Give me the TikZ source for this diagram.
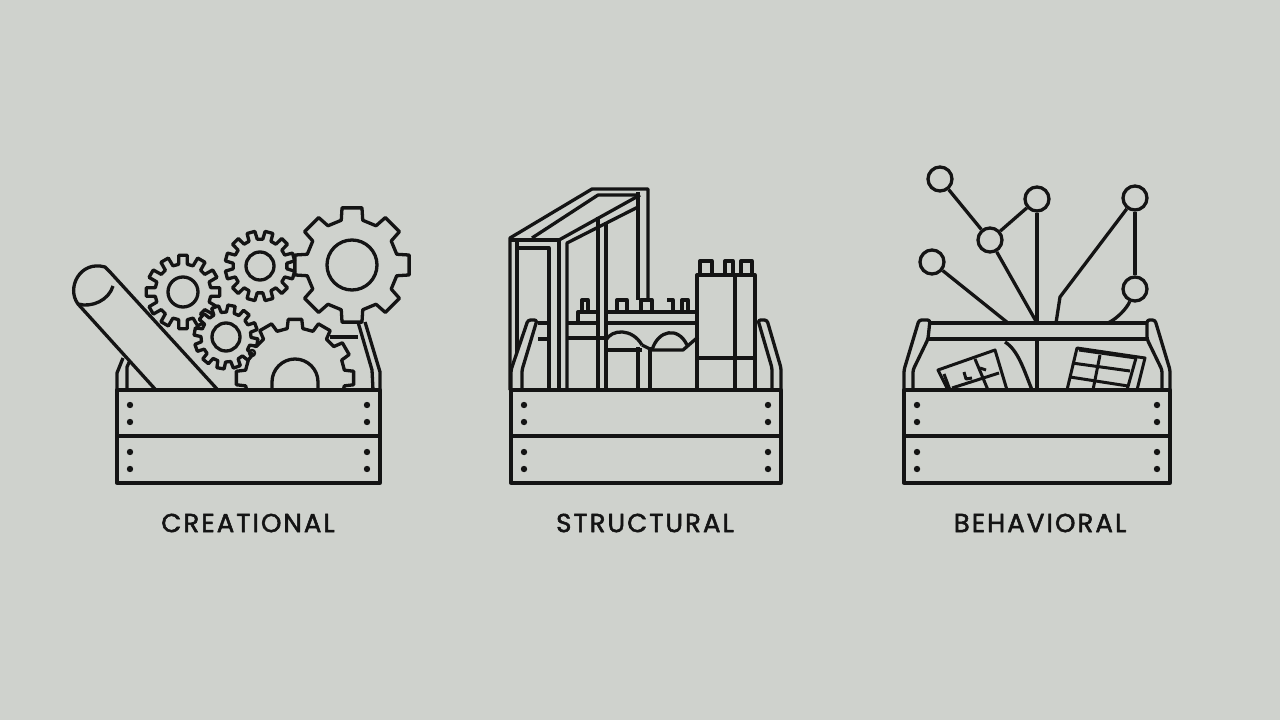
\documentclass[tikz,border=0pt]{standalone}
\usepackage{fontspec}
\newfontfamily\labelfont{Poppins}[LetterSpace=8,FakeBold=2]
\definecolor{wall}{RGB}{207,210,205}
\definecolor{ink}{RGB}{20,20,20}
% crate with two boards and nail dots
\newcommand{\crate}[2]{
  \draw[fill=wall] (#1,390) rectangle (#2,483);
  \draw (#1,436) -- (#2,436);
  \foreach \nailx in {#1+13,#2-13}
    \foreach \naily in {405,422,452,469}
      \fill ({\nailx},\naily) circle (3.2);
}
% x, y, outer radius, root radius, teeth, hole radius, phase
\newcommand{\cog}[7]{
  \begin{scope}[shift={(#1,#2)}]
    \pgfmathsetmacro{\cogstep}{360/#5}
    \draw[fill=wall] ({#7-.3*\cogstep}:#4)
      \foreach \tooth in {1,...,#5} {
        -- ({#7+(\tooth-1)*\cogstep-.22*\cogstep}:#3)
        -- ({#7+(\tooth-1)*\cogstep+.22*\cogstep}:#3)
        -- ({#7+(\tooth-1)*\cogstep+.3*\cogstep}:#4)
        -- ({#7+\tooth*\cogstep-.3*\cogstep}:#4)
      } -- cycle;
    \draw (0,0) circle (#6);
  \end{scope}
}
\begin{document}
\begin{tikzpicture}[x=1pt, y=-1pt, line width=3.3pt, line join=round, draw=ink, fill=ink,
  every node/.style={text=ink, font=\labelfont\fontsize{26}{27}\selectfont},
  hub/.style={circle, draw=ink, fill=wall, inner sep=0pt, minimum size=24pt},
  handle/.style={rounded corners=2.5pt, fill=wall}]
\useasboundingbox (0,0) rectangle (1280,720);
\fill[wall] (0,0) rectangle (1280,720);

% Creational handles
\draw (117,390) -- (117,373) -- (123,358);
\draw (127,390) -- (127,367) -- (131,358);
\draw (380,390) -- (380,372) -- (365,322);
\draw (373,390) -- (372,370) -- (358,322);
\draw (330,337) -- (358,337);
% Creational gears
\begin{scope}
\clip (0,0) rectangle (1280,390);
\cog{295}{378}{59}{50}{12}{4}{-90}
\draw[fill=wall] (272,392) -- (272,382) arc (180:360:23) -- (318,392);
\end{scope}
\cog{352}{265}{58}{46}{8}{25}{-90}
\cog{260}{266}{35}{27}{12}{14}{-75}
\cog{183}{292}{37}{28}{12}{15}{-90}
\cog{226}{337}{32}{25}{12}{14}{-80}
\draw[line width=2.4pt] (252,353) circle (3);
% Creational tube
\draw[fill=wall] (155,389) -- (78,304) .. controls (66,288) and (80,260) .. (105,267)
  -- (110,272) -- (217,389);
\draw (78,304) .. controls (92,308) and (109,300) .. (113,286);
\crate{117}{380}
\node (creational) at (248,523) {CREATIONAL};

% Structural frame
\draw (510,390) -- (510,238) -- (592,189) -- (648,189) -- (648,300);
\draw (517,390) -- (517,240);
\draw (510,240) -- (559,240) -- (559,388);
\draw (518,248) -- (549,248) -- (549,388);
\draw (567,388) -- (567,243) -- (638,207);
\draw (532,238) -- (598,195) -- (637,195);
\draw (559,240) -- (640,195);
\draw (638,192) -- (638,300);
\draw (598,217) -- (598,388);
\draw (606,222) -- (606,388);
\draw (638,347) -- (638,388);
\draw (650,347) -- (650,388);
% Structural bricks
\draw (578,323) -- (578,312) -- (598,312);
\draw (606,312) -- (695,312);
\draw (567,323) -- (598,323);
\draw (606,323) -- (695,323);
\draw (567,338) -- (606,338);
\draw (538,323) -- (549,323);
\draw (538,339) -- (549,339);
\draw (582,312) -- (582,300) -- (588,300) -- (588,312);
\draw (617,312) -- (617,300) -- (627,300) -- (627,312);
\draw (641,312) -- (641,300) -- (652,300) -- (652,312);
\draw (667,300) -- (673,300) -- (673,312);
\draw (682,312) -- (682,300) -- (688,300) -- (688,312);
\draw (606,340) .. controls (612,329) and (632,328) .. (642,345);
\draw (606,350) -- (642,350);
\draw (642,345) -- (652,350);
\draw (652,350) .. controls (658,330) and (678,326) .. (687,345);
\draw (652,350) -- (683,350) -- (698,337);
% Structural tower
\draw (697,388) -- (697,275) -- (755,275) -- (755,388);
\draw (735,275) -- (735,388);
\draw (697,358) -- (755,358);
\draw (700,275) -- (700,261) -- (712,261) -- (712,275);
\draw (725,275) -- (725,261) -- (733,261) -- (733,275);
\draw (741,275) -- (741,261) -- (752,261) -- (752,275);
% Structural handles
\draw[handle] (511,390) -- (511,370) -- (528,320) -- (537,320) -- (522,370) -- (522,390);
\draw[handle] (781,390) -- (781,368) -- (767,320) -- (758,320) -- (772,368) -- (772,390);
\crate{511}{781}
\node (structural) at (645,523) {STRUCTURAL};

% Behavioral tree
\node[hub] (hubA) at (940,179) {};
\node[hub] (hubB) at (1037,199) {};
\node[hub] (hubC) at (990,240) {};
\node[hub] (hubD) at (932,262) {};
\node[hub] (hubE) at (1135,198) {};
\node[hub] (hubF) at (1135,289) {};
\coordinate (trunk) at (1037,323);
\coordinate (rootD) at (1008,323);
\coordinate (rootE) at (1056,323);
\coordinate (rootF) at (1108,323);
\draw (hubA) -- (hubC);
\draw (hubC) -- (hubB);
\draw (hubB) -- (trunk);
\draw (hubC) -- (trunk);
\draw (hubD) -- (rootD);
\draw (hubE) -- (1060,297) -- (rootE);
\draw (hubE) -- (hubF);
\draw (hubF) .. controls (1127,308) and (1118,318) .. (rootF);
% Behavioral handles
\draw (928,323) -- (1147,323);
\draw (928,339) -- (1147,339);
\draw[handle] (904,390) -- (904,370) -- (919,320) -- (930,320) -- (928,339) -- (913,370) -- (913,390);
\draw[handle] (1170,390) -- (1170,370) -- (1155,320) -- (1147,320) -- (1147,339) -- (1162,370) -- (1162,390);
\draw (1037,339) -- (1037,390);
\draw (1005,342) .. controls (1018,350) and (1024,370) .. (1032,390);
% Behavioral cards
\begin{scope}[line width=3pt]
\draw (948,390) -- (938,370) -- (995,350) -- (1007,390);
\draw (944,374) -- (950,390);
\draw (975,359) -- (988,390);
\draw (952,388) -- (999,373);
\draw (964,372) -- (966,379) -- (972,378);
\draw (980,368) -- (986,370);
\draw (1067,390) -- (1077,348) -- (1145,358) -- (1137,390);
\draw (1079,350) -- (1136,358) -- (1127,390);
\draw (1072,363) -- (1130,371);
\draw (1070,377) -- (1128,386);
\draw (1100,355) -- (1093,390);
\end{scope}
\crate{904}{1170}
\node (behavioral) at (1040,523) {BEHAVIORAL};
\end{tikzpicture}
\end{document}
